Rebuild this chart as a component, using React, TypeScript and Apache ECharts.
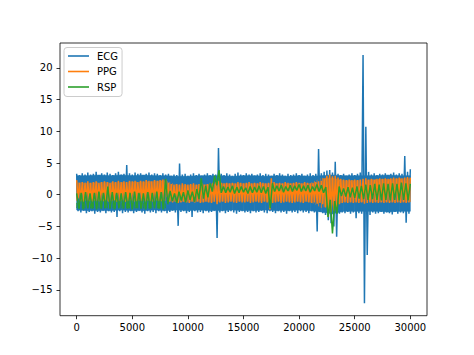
import React, { useEffect, useRef } from "react";
import * as echarts from "echarts";

const xTicks = [0, 5000, 10000, 15000, 20000, 25000, 30000];
const yTicks = [-15, -10, -5, 0, 5, 10, 15, 20];
const seriesNames = ["ECG", "PPG", "RSP"];
const seriesColors = ["#1f77b4", "#ff7f0e", "#2ca02c"];

// Envelope readings (upper at x = i*step, lower at x = i*step + step/2)
const ECG_STEP = 250;
const ecgHi = [
  3.3, 3.1, 3.4, 3.2, 3.5, 3.2, 3.3, 3.6, 3.1, 3.4,
  3.2, 3.5, 3.3, 3.1, 3.4, 3.6, 3.2, 3.3, 4.7, 3.4,
  3.2, 3.5, 3.3, 3.4, 3.1, 3.3, 3.5, 3.2, 3.4, 3.3,
  3.1, 3.4, 3.2, 3.3, 3.0, 3.2, 3.1, 4.9, 3.2, 3.3,
  3.0, 3.2, 3.4, 3.1, 3.3, 3.0, 3.2, 3.4, 3.1, 3.3,
  3.2, 7.35, 3.3, 3.1, 3.4, 3.2, 3.0, 3.3, 3.5, 3.2,
  3.1, 3.4, 3.2, 3.3, 3.0, 3.2, 3.4, 3.1, 3.3, 3.2,
  3.0, 3.3, 3.1, 3.4, 3.2, 3.0, 3.3, 3.1, 3.2, 3.4,
  3.1, 3.3, 3.0, 3.2, 3.4, 3.1, 3.3, 7.2, 3.4, 3.6,
  3.8, 3.9, 3.5, 5.2, 3.3, 3.1, 3.3, 3.0, 3.2, 3.4,
  3.1, 3.3, 3.5, 22.0, 10.7, 3.6, 3.2, 3.4, 3.1, 3.3,
  3.2, 3.4, 3.1, 3.3, 3.5, 3.2, 3.4, 3.3, 6.1, 3.6, 4.0,
];
const ecgLo = [
  -2.6, -2.8, -2.5, -2.9, -2.7, -2.6, -3.0, -2.7, -2.8, -2.5,
  -2.9, -2.6, -2.8, -2.7, -3.5, -2.6, -2.9, -2.7, -2.8, -2.6,
  -2.9, -2.7, -2.5, -2.8, -3.0, -2.6, -2.8, -2.7, -2.9, -2.6,
  -2.8, -2.6, -2.9, -2.7, -2.5, -2.8, -4.9, -2.7, -2.6, -2.9,
  -2.7, -3.5, -2.6, -2.8, -2.7, -2.9, -2.6, -2.8, -2.7, -2.5,
  -6.8, -2.8, -2.6, -2.9, -2.7, -2.6, -2.8, -3.0, -2.7, -2.6,
  -2.8, -2.7, -2.9, -2.6, -2.8, -2.7, -2.5, -2.8, -2.9, -2.6,
  -2.7, -2.9, -2.6, -2.8, -2.7, -3.0, -2.6, -2.8, -2.7, -2.9,
  -2.6, -2.8, -2.7, -2.9, -2.6, -2.8, -5.8, -2.7, -2.9, -3.2,
  -4.0, -4.5, -5.0, -6.6, -3.0, -2.8, -2.9, -2.7, -3.0, -2.8,
  -3.7, -2.9, -3.0, -17.1, -9.5, -3.2, -2.8, -3.0, -2.9, -2.7,
  -3.0, -2.8, -2.9, -3.1, -2.7, -3.0, -2.8, -2.9, -4.4, -3.0,
];

const PPG_STEP = 250;
const ppgHi = [
  2.3, 1.9, 2.0, 1.9, 2.1, 1.9, 2.0, 2.1, 1.9, 2.0,
  2.1, 2.0, 1.9, 2.1, 2.0, 2.2, 2.0, 2.1, 2.0, 2.2,
  2.1, 2.2, 2.0, 2.2, 2.1, 2.3, 2.2, 2.1, 2.3, 2.2,
  2.3, 2.4, 2.4, 1.9, 1.7, 1.6, 1.7, 1.6, 1.8, 1.7,
  1.6, 1.7, 1.8, 1.6, 1.7, 1.8, 1.6, 1.7, 1.8, 1.9,
  2.0, 2.2, 1.9, 1.8, 1.9, 1.8, 1.9, 1.8, 2.0, 1.9,
  1.8, 1.9, 2.0, 1.8, 1.9, 1.8, 2.0, 1.9, 1.8, 1.9,
  2.6, 2.0, 1.8, 1.9, 1.8, 2.0, 1.9, 1.8, 1.9, 2.0,
  1.9, 1.8, 2.0, 1.9, 1.8, 1.9, 2.0, 2.1, 2.2, 2.6,
  3.0, 3.2, 2.9, 3.0, 2.7, 2.5, 2.4, 2.3, 2.4, 2.3,
  2.4, 2.3, 2.4, 2.5, 2.6, 2.4, 2.5, 2.4, 2.5, 2.6,
  2.5, 2.6, 2.5, 2.6, 2.7, 2.6, 2.7, 2.6, 2.7, 2.8, 2.7,
];
const ppgLo = [
  -0.6, -1.0, -1.1, -0.9, -1.0, -1.1, -0.9, -1.0, -1.1, -1.0,
  -0.9, -1.1, -1.0, -0.9, -1.1, -1.0, -0.9, -1.1, -1.0, -0.9,
  -1.1, -1.0, -0.9, -1.0, -1.1, -0.9, -1.0, -1.1, -0.9, -1.0,
  -1.0, -0.9, -0.4, -1.1, -1.2, -1.1, -1.3, -1.2, -1.1, -1.2,
  -1.3, -1.1, -1.2, -1.1, -1.3, -1.2, -1.1, -1.2, -1.3, -1.1,
  -1.5, -1.2, -1.1, -1.3, -1.2, -1.1, -1.2, -1.3, -1.1, -1.2,
  -1.2, -1.1, -1.3, -1.2, -1.1, -1.2, -1.3, -1.1, -1.2, -2.3,
  -1.3, -1.2, -1.1, -1.3, -1.2, -1.1, -1.2, -1.3, -1.2, -1.1,
  -1.2, -1.3, -1.1, -1.2, -1.3, -1.2, -1.4, -1.3, -1.5, -2.0,
  -3.5, -2.8, -2.5, -2.0, -1.5, -1.3, -1.2, -1.3, -1.2, -1.3,
  -1.2, -1.3, -1.2, -1.4, -1.3, -1.2, -1.3, -1.2, -1.3, -1.2,
  -1.3, -1.2, -1.3, -1.2, -1.3, -1.2, -1.3, -1.2, -1.3, -1.2,
];

const RSP_STEP = 400;
const rspHi = [
  0.2, 0.3, 0.4, 0.2, 0.3, 0.5, 0.3, 1.3, 0.4, 0.3,
  0.2, 0.4, 0.3, 0.5, 0.3, 0.2, 0.4, 0.3, 0.5, 0.4, 2.5,
  0.6, 0.2, 0.5, 0.4, 0.7, 0.5, 0.9, 2.6, 1.4, 1.8, 3.0, 3.9,
  1.3, 1.2, 1.4, 1.2, 1.3, 1.1, 1.3, 1.2, 1.4, 1.3, 1.2,
  1.8,
  1.4, 1.5, 1.3, 1.5, 1.4, 1.6, 1.4, 1.5, 1.3, 1.6, 1.5,
  1.2, -0.8, -1.0, 1.3,
  1.0, 1.2, 1.1, 1.3, 1.4, 1.6, 1.5, 1.7, 1.6, 1.8, 1.7, 1.8, 1.7, 1.9, 1.8, 1.7,
];
const rspLo = [
  -2.2, -2.3, -2.1, -2.2, -2.3, -2.2, -2.1, -2.2, -2.3, -2.1,
  -2.2, -2.2, -2.3, -2.1, -2.2, -2.3, -2.2, -2.1, -2.2, -2.3,
  -1.5,
  -1.0, -1.3, -0.9, -1.2, -0.8, -1.1, -0.7, -0.6, -0.4, 0.5,
  1.5, 0.3,
  0.3, 0.4, 0.2, 0.3, 0.4, 0.2, 0.3, 0.4, 0.3, 0.2,
  -2.1,
  0.5, 0.6, 0.4, 0.6, 0.5, 0.7, 0.5, 0.6, 0.4, 0.6, 0.5,
  0.3, -3.5, -6.1, -3.0,
  -0.2, -0.3, -0.4, -0.5, -0.6, -0.7, -0.8, -0.7, -0.8, -0.9, -0.8, -0.9, -0.8, -0.9, -0.8, -0.9,
];

// Dense core of each band (where the trace fills the column solidly), every 1000 samples
const CORE_STEP = 1000;
const ecgCoreHi = [
  3.0, 3.0, 3.1, 3.0, 3.1, 3.0, 3.1, 3.0, 3.0, 2.9,
  2.9, 3.0, 3.0, 3.0, 2.9, 3.0, 3.0, 2.9, 3.0, 2.9,
  3.0, 2.9, 3.0, 3.1, 3.0, 3.0, 3.0, 3.0, 3.1, 3.0, 3.0,
];
const ecgCoreLo = [
  -2.4, -2.5, -2.5, -2.5, -2.4, -2.5, -2.5, -2.4, -2.5, -2.4,
  -2.5, -2.4, -2.5, -2.5, -2.4, -2.5, -2.5, -2.4, -2.5, -2.5,
  -2.4, -2.5, -2.7, -3.0, -2.6, -2.6, -2.6, -2.6, -2.7, -2.6, -2.6,
];
const ppgCoreHi = [
  1.9, 1.8, 1.9, 1.9, 1.9, 2.0, 2.0, 2.1, 2.2, 1.5,
  1.5, 1.55, 1.6, 1.75, 1.75, 1.75, 1.75, 1.75, 1.75, 1.75,
  1.75, 1.8, 2.6, 2.6, 2.2, 2.2, 2.3, 2.4, 2.4, 2.5, 2.5,
];
const ppgCoreLo = [
  -0.9, -0.9, -0.9, -0.9, -0.9, -0.9, -0.9, -0.9, -0.9, -1.0,
  -1.1, -1.1, -1.1, -1.0, -1.0, -1.0, -1.0, -1.0, -1.0, -1.0,
  -1.0, -1.1, -2.0, -1.5, -1.1, -1.1, -1.1, -1.1, -1.1, -1.1, -1.1,
];
// RSP solid base in the first stretch (0 .. 8000)
const rspCoreHi = [-1.3, -1.4, -1.4, -1.3, -1.4, -1.4, -1.3, -1.4, -1.4];
const rspCoreLo = [-2.1, -2.1, -2.1, -2.1, -2.1, -2.1, -2.1, -2.1, -2.1];

function trace(hi: number[], lo: number[], step: number): number[][] {
  const out: number[][] = [];
  for (let i = 0; i < hi.length; i++) {
    out.push([i * step, hi[i]]);
    if (i < lo.length) out.push([i * step + step / 2, lo[i]]);
  }
  return out;
}

const FONT = "DejaVu Sans";
const minus = (v: number) => String(v).replace("-", "\u2212");

function coreSeries(name: string, hi: number[], lo: number[], color: string) {
  const data: number[][] = [];
  for (let i = 0; i < hi.length - 1; i++) {
    data.push([i * CORE_STEP, lo[i], hi[i], (i + 1) * CORE_STEP, lo[i + 1], hi[i + 1]]);
  }
  return {
    name: name + " core",
    type: "custom",
    data,
    encode: { x: [0, 3], y: [1, 2, 4, 5] },
    silent: true,
    clip: true,
    renderItem: (_params: any, api: any) => {
      const a = api.coord([api.value(0), api.value(1)]);
      const b = api.coord([api.value(0), api.value(2)]);
      const c = api.coord([api.value(3), api.value(5)]);
      const d = api.coord([api.value(3), api.value(4)]);
      return {
        type: "polygon",
        shape: { points: [a, b, c, d] },
        style: { fill: color, stroke: color, lineWidth: 0.6 },
      };
    },
  };
}

function traceSeries(name: string, data: number[][], color: string) {
  return {
    name,
    type: "line",
    data,
    symbol: "none",
    showSymbol: false,
    color,
    lineStyle: { width: 1.5, color },
    silent: true,
    emphasis: { disabled: true },
  };
}

export default function App() {
  const ref = useRef<HTMLDivElement>(null);
  useEffect(() => {
    if (!ref.current) return;
    const chart = echarts.init(ref.current, null, { renderer: "svg" });
    chart.setOption({
      animation: false,
      backgroundColor: "#ffffff",
      grid: {
        left: 60,
        right: 47,
        top: 43,
        bottom: 39.3,
        show: true,
        borderColor: "#000000",
        borderWidth: 0.8,
        backgroundColor: "transparent",
      },
      legend: {
        orient: "vertical",
        left: 64,
        top: 47.5,
        padding: [3, 4, 4, 4],
        itemGap: 4.5,
        itemWidth: 21,
        itemHeight: 1.6,
        icon: "rect",
        borderColor: "#cccccc",
        borderWidth: 1,
        borderRadius: 3,
        backgroundColor: "rgba(255,255,255,0.8)",
        selectedMode: false,
        data: seriesNames,
        z: 10,
        textStyle: {
          fontFamily: FONT,
          fontSize: 10,
          color: "#000",
          lineHeight: 11,
          padding: [0, 0, 0, 3],
        },
      },
      xAxis: {
        type: "value",
        min: -1500,
        max: 31500,
        splitLine: { show: false },
        axisLine: { show: false, onZero: false },
        axisTick: {
          show: true,
          length: 3.5,
          lineStyle: { color: "#000", width: 0.8 },
          customValues: xTicks,
        },
        axisLabel: {
          customValues: xTicks,
          color: "#000",
          fontFamily: FONT,
          fontSize: 10,
          margin: 6.5,
          formatter: (v: number) => minus(v),
        },
      },
      yAxis: {
        type: "value",
        min: -19.05,
        max: 23.9,
        splitLine: { show: false },
        axisLine: { show: false, onZero: false },
        axisTick: {
          show: true,
          length: 3.5,
          lineStyle: { color: "#000", width: 0.8 },
          customValues: yTicks,
        },
        axisLabel: {
          customValues: yTicks,
          color: "#000",
          fontFamily: FONT,
          fontSize: 10,
          margin: 7.5,
          formatter: (v: number) => minus(v),
        },
      },
      series: [
        coreSeries("ECG", ecgCoreHi, ecgCoreLo, seriesColors[0]),
        traceSeries("ECG", trace(ecgHi, ecgLo, ECG_STEP), seriesColors[0]),
        coreSeries("PPG", ppgCoreHi, ppgCoreLo, seriesColors[1]),
        traceSeries("PPG", trace(ppgHi, ppgLo, PPG_STEP), seriesColors[1]),
        coreSeries("RSP", rspCoreHi, rspCoreLo, seriesColors[2]),
        traceSeries("RSP", trace(rspHi, rspLo, RSP_STEP), seriesColors[2]),
      ],
    });
    return () => chart.dispose();
  }, []);
  return (
    <div
      ref={ref}
      style={{ position: "fixed", left: 0, top: 0, width: 474, height: 355 }}
    />
  );
}
